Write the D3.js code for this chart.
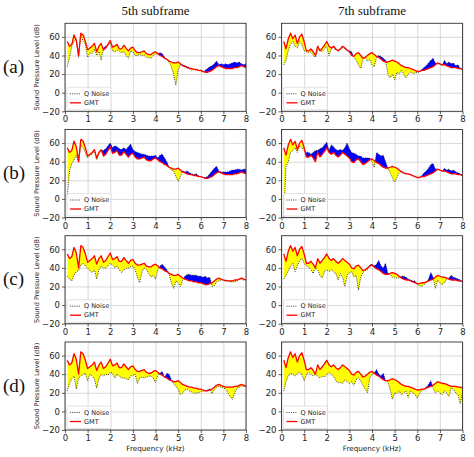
<!DOCTYPE html>
<html>
<head>
<meta charset="utf-8">
<script src="https://cdn.jsdelivr.net/npm/d3@7"></script>
<style>
  body { margin: 0; background: #fff; }
  svg { display: block; }
</style>
</head>
<body>
<div id="chart"></div>
<script>
// Frequency bins (kHz)
const freq = [
  0.1,0.2,0.3,0.4,0.5,0.6,0.7,0.8,0.9,1.0,
  1.1,1.2,1.3,1.4,1.5,1.6,1.7,1.8,1.9,2.0,
  2.1,2.2,2.3,2.4,2.5,2.6,2.7,2.8,2.9,3.0,
  3.1,3.2,3.3,3.4,3.5,3.6,3.7,3.8,3.9,4.0,
  4.1,4.2,4.3,4.4,4.5,4.6,4.7,4.8,4.9,5.0,
  5.1,5.2,5.3,5.4,5.5,5.6,5.7,5.8,5.9,6.0,
  6.1,6.2,6.3,6.4,6.5,6.6,6.7,6.8,6.9,7.0,
  7.1,7.2,7.3,7.4,7.5,7.6,7.7,7.8,7.9,8.0
];

// GMT (global masking threshold), dB
const gmt5 = [
  55,50,52,62,56,40,64,62,55,46,
  48,50,53,44,50,53,46,48,52,56,
  49,50,52,47,47,51,48,45,48,49,
  45,43,43,44,45,42,41,41,43,44,
  42,40,39,37,36,34,33,32,32,33,
  31,29,28,27,26,26,25,25,24,24,
  23,22,22,23,24,26,28,29,28,27,
  26,26,26,26,27,27,28,29,28,27
];
const gmt7 = [
  55,47,58,64,58,62,53,60,63,55,
  45,45,47,44,40,50,45,48,51,55,
  50,48,50,47,45,47,50,48,46,44,
  40,39,42,43,40,37,38,40,42,43,
  41,39,38,36,34,33,33,34,35,34,
  33,31,29,28,27,27,26,25,24,23,
  23,24,24,25,26,27,28,30,32,31,
  30,30,29,28,27,27,27,26,26,25
];

// Q noise, 5th subframe, rows (a)-(d)
const noise5a = [
  28,38,50,55,58,38,63,55,52,38,
  43,42,47,40,44,35,48,50,51,53,
  45,44,46,44,43,44,40,37,45,44,
  40,40,41,40,40,38,38,37,40,42,
  42,43,42,38,35,33,28,20,8,24,
  30,30,29,28,27,24,25,24,24,23,
  22,24,26,28,29,31,34,30,31,30,
  31,30,31,32,33,32,33,31,30,31
];
const noise5b = [
  3,30,38,42,47,39,58,55,50,44,
  47,48,52,42,48,52,52,54,57,60,
  55,57,56,54,53,55,53,56,59,53,
  51,50,49,48,48,47,46,46,46,47,
  44,47,48,44,40,34,31,30,24,19,
  24,30,29,30,28,27,26,27,25,24,
  23,23,24,27,30,33,35,30,29,29,
  29,29,30,31,31,32,32,31,32,32
];
const noise5c = [
  31,28,26,32,36,37,43,45,42,40,
  37,35,38,28,38,42,40,40,42,45,
  43,40,42,38,35,38,39,40,41,42,
  38,30,24,36,40,38,34,30,32,28,
  38,42,44,41,38,34,24,18,26,24,
  20,27,31,33,33,32,32,32,31,31,
  30,31,29,30,20,21,25,26,27,27,
  27,26,25,25,25,26,28,28,27,27
];
const noise5d = [
  22,30,35,38,24,36,38,40,41,33,
  40,38,35,25,35,40,38,40,39,42,
  41,36,40,38,36,36,35,34,38,39,
  40,30,36,37,36,37,38,38,36,31,
  39,41,43,36,41,40,34,30,27,24,
  18,20,23,24,22,21,19,20,20,21,
  22,22,23,24,19,23,26,27,26,25,
  24,20,16,13,20,25,26,27,27,27
];

// Q noise, 7th subframe, rows (a)-(d)
const noise7a = [
  30,35,45,52,55,50,48,55,52,45,
  44,43,44,40,38,46,46,44,47,50,
  40,47,49,46,45,46,49,47,45,45,
  44,38,35,30,26,36,38,34,36,30,
  28,38,40,39,37,35,20,16,20,14,
  22,20,24,20,16,20,22,21,21,22,
  22,25,27,29,32,35,37,32,31,31,
  29,35,31,33,31,32,29,30,26,25
];
const noise7b = [
  -20,35,40,50,52,55,50,57,55,52,
  50,50,48,50,52,52,54,55,58,61,
  52,58,56,53,52,53,52,55,60,54,
  50,49,48,46,46,44,44,44,44,40,
  34,50,48,46,47,40,33,28,23,18,
  23,28,30,28,27,27,26,25,24,23,
  23,25,28,30,33,37,38,32,32,31,
  29,33,31,32,30,31,29,28,27,25
];
const noise7c = [
  28,32,37,42,45,36,42,48,50,45,
  42,41,38,34,40,38,32,29,36,38,
  36,38,36,34,27,34,30,20,32,35,
  36,30,32,16,30,35,37,38,43,44,
  42,44,48,42,40,45,34,33,30,30,
  29,29,31,31,30,28,27,26,26,22,
  21,20,22,24,28,35,30,18,27,24,
  22,24,28,29,32,30,29,28,27,25
];
const noise7d = [
  22,32,38,41,40,38,41,42,40,33,
  40,42,40,38,40,38,36,38,37,40,
  42,40,38,33,31,31,30,34,32,30,
  32,28,34,36,33,28,24,20,36,40,
  41,45,40,38,41,33,32,24,13,20,
  19,22,18,20,22,15,22,20,18,14,
  20,22,24,26,29,33,25,20,22,20,
  18,22,20,16,25,24,20,18,8,20
];

const columnTitles = ["5th subframe", "7th subframe"];
const rowLabels = ["(a)", "(b)", "(c)", "(d)"];
const xTicks = [0, 1, 2, 3, 4, 5, 6, 7, 8];
const yTicks = [-20, 0, 20, 40, 60];

const panels = [
  { col: 0, row: 0, gmt: gmt5, noise: noise5a },
  { col: 0, row: 1, gmt: gmt5, noise: noise5b },
  { col: 0, row: 2, gmt: gmt5, noise: noise5c },
  { col: 0, row: 3, gmt: gmt5, noise: noise5d },
  { col: 1, row: 0, gmt: gmt7, noise: noise7a },
  { col: 1, row: 1, gmt: gmt7, noise: noise7b },
  { col: 1, row: 2, gmt: gmt7, noise: noise7c },
  { col: 1, row: 3, gmt: gmt7, noise: noise7d },
];

const W = 474, H = 457;
const colLeft = [65, 281.5];
const rowTop = [23.3, 129.5, 235.7, 342];
const plotW = 181, plotH = 88;

const svg = d3.select("#chart").append("svg")
  .attr("width", W).attr("height", H)
  .attr("viewBox", [0, 0, W, H]);

const x = d3.scaleLinear().domain([0, 8]).range([0, plotW]);
const y = d3.scaleLinear().domain([-20, 74.6]).range([plotH, 0]);

const sans = "DejaVu Sans, sans-serif";
const serif = "Liberation Serif, Times New Roman, serif";

// insert crossing points so fills switch colour exactly where the lines meet
function withCrossings(noise, gmt) {
  const pts = [];
  for (let i = 0; i < freq.length; i++) {
    pts.push({ f: freq[i], n: noise[i], g: gmt[i] });
    if (i < freq.length - 1) {
      const d0 = noise[i] - gmt[i], d1 = noise[i + 1] - gmt[i + 1];
      if (d0 * d1 < 0) {
        const t = d0 / (d0 - d1);
        const v = gmt[i] + t * (gmt[i + 1] - gmt[i]);
        pts.push({ f: freq[i] + t * (freq[i + 1] - freq[i]), n: v, g: v });
      }
    }
  }
  return pts;
}

svg.append("defs").append("clipPath").attr("id", "plotclip")
  .append("rect").attr("width", plotW).attr("height", plotH);

panels.forEach((p) => {
  const g = svg.append("g")
    .attr("transform", `translate(${colLeft[p.col]},${rowTop[p.row]})`);

  // grid
  g.append("g")
    .attr("transform", `translate(0,${plotH})`)
    .call(d3.axisBottom(x).tickValues(xTicks).tickSize(-plotH).tickFormat(""))
    .call((a) => a.select(".domain").remove())
    .selectAll(".tick line").attr("stroke", "#c8c8c8").attr("stroke-width", 0.7);
  g.append("g")
    .call(d3.axisLeft(y).tickValues(yTicks).tickSize(-plotW).tickFormat(""))
    .call((a) => a.select(".domain").remove())
    .selectAll(".tick line").attr("stroke", "#c8c8c8").attr("stroke-width", 0.7);

  const pts = withCrossings(p.noise, p.gmt);
  const plot = g.append("g").attr("clip-path", "url(#plotclip)");

  plot.append("path").datum(pts)
    .attr("fill", "#ffff00")
    .attr("d", d3.area()
      .x((d) => x(d.f))
      .y0((d) => y(d.g))
      .y1((d) => y(Math.min(d.n, d.g))));

  plot.append("path").datum(pts)
    .attr("fill", "#0000ff")
    .attr("d", d3.area()
      .x((d) => x(d.f))
      .y0((d) => y(d.g))
      .y1((d) => y(Math.max(d.n, d.g))));

  const line = d3.line().x((d, i) => x(freq[i])).y((d) => y(d));

  plot.append("path").datum(p.noise)
    .attr("fill", "none")
    .attr("stroke", "#111")
    .attr("stroke-width", 0.8)
    .attr("stroke-dasharray", "1,1.2")
    .attr("d", line);

  plot.append("path").datum(p.gmt)
    .attr("fill", "none")
    .attr("stroke", "#ff0000")
    .attr("stroke-width", 1.3)
    .attr("stroke-linejoin", "round")
    .attr("d", line);

  // axes
  const xAxis = g.append("g")
    .attr("transform", `translate(0,${plotH})`)
    .call(d3.axisBottom(x).tickValues(xTicks).tickSize(3).tickPadding(2).tickFormat(d3.format("d")));
  const yAxis = g.append("g")
    .call(d3.axisLeft(y).tickValues(yTicks).tickSize(3).tickPadding(2)
      .tickFormat((d) => (d < 0 ? "\u2212" + Math.abs(d) : d)));
  [xAxis, yAxis].forEach((a) => {
    a.select(".domain").remove();
    a.selectAll(".tick line").attr("stroke", "#333").attr("stroke-width", 0.8);
    a.selectAll("text").attr("fill", "#222").style("font-family", sans).style("font-size", "8.5px");
  });

  // frame
  g.append("rect")
    .attr("width", plotW).attr("height", plotH)
    .attr("fill", "none").attr("stroke", "#333").attr("stroke-width", 0.9);

  // legend
  const lg = g.append("g").attr("transform", `translate(2,${plotH - 24})`);
  lg.append("rect")
    .attr("width", 44).attr("height", 22.5).attr("rx", 1.5)
    .attr("fill", "#fff").attr("fill-opacity", 0.85)
    .attr("stroke", "#d0d0d0").attr("stroke-width", 0.6);
  lg.append("line").attr("x1", 3).attr("x2", 14).attr("y1", 6.5).attr("y2", 6.5)
    .attr("stroke", "#111").attr("stroke-width", 0.8).attr("stroke-dasharray", "1,1.2");
  lg.append("line").attr("x1", 3).attr("x2", 14).attr("y1", 15.5).attr("y2", 15.5)
    .attr("stroke", "#ff0000").attr("stroke-width", 1.3);
  lg.append("text").attr("x", 17).attr("y", 6.5).attr("dy", "0.35em")
    .style("font-family", sans).style("font-size", "6.5px").attr("fill", "#222")
    .text("Q Noise");
  lg.append("text").attr("x", 17).attr("y", 15.5).attr("dy", "0.35em")
    .style("font-family", sans).style("font-size", "6.5px").attr("fill", "#222")
    .text("GMT");

  if (p.col === 0) {
    g.append("text")
      .attr("transform", `translate(-28,${plotH / 2}) rotate(-90)`)
      .attr("text-anchor", "middle")
      .attr("dy", "0.35em")
      .style("font-family", sans).style("font-size", "6.6px").attr("fill", "#222")
      .text("Sound Pressure Level (dB)");
  }
  if (p.row === 3) {
    g.append("text")
      .attr("x", plotW / 2).attr("y", plotH + 18)
      .attr("text-anchor", "middle").attr("dy", "0.35em")
      .style("font-family", sans).style("font-size", "7.2px").attr("fill", "#222")
      .text("Frequency (kHz)");
  }
});

// column titles
columnTitles.forEach((t, i) => {
  svg.append("text")
    .attr("x", colLeft[i] + plotW / 2).attr("y", 10)
    .attr("text-anchor", "middle").attr("dy", "0.35em")
    .style("font-family", serif).style("font-size", "13px").attr("fill", "#111")
    .text(t);
});

// row labels
rowLabels.forEach((t, i) => {
  svg.append("text")
    .attr("x", 3).attr("y", rowTop[i] + 43)
    .attr("dy", "0.35em")
    .style("font-family", serif).style("font-size", "19px").attr("fill", "#111")
    .text(t);
});
</script>
</body>
</html>
